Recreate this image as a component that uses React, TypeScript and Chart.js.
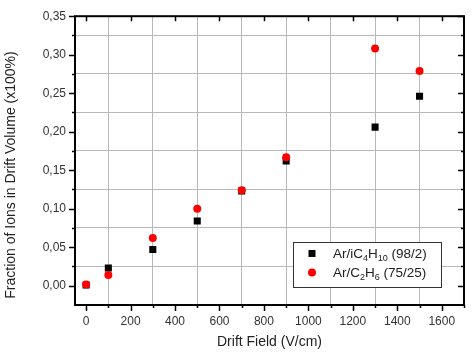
import React, { useEffect, useRef } from "react";
import { Chart, registerables } from "chart.js";

Chart.register(...registerables);

const driftField = [0, 100, 300, 500, 700, 900, 1300, 1500];
const isobutaneFraction = [0.001, 0.023, 0.047, 0.084, 0.123, 0.162, 0.206, 0.246];
const ethaneFraction = [0.0015, 0.014, 0.062, 0.1, 0.124, 0.167, 0.308, 0.279];

const xTickValues = Array.from({ length: 18 }, (_, i) => i * 100); // 0..1700
const yTickSteps = Array.from({ length: 16 }, (_, i) => i - 1); // -1..14 (x0.025)

const FONT = '"Liberation Sans", Arial, sans-serif';

const framePlugin = {
  id: "frame",
  afterDraw(chart: any) {
    const { ctx, chartArea } = chart;
    const { left, right, top, bottom } = chartArea;
    const xs = chart.scales.x;
    const ys = chart.scales.y;
    ctx.save();
    ctx.strokeStyle = "#000";
    ctx.lineWidth = 2;
    ctx.strokeRect(left, top, right - left, bottom - top);

    ctx.lineWidth = 1.5;
    ctx.beginPath();
    for (const v of xTickValues) {
      const px = Math.round(xs.getPixelForValue(v)) + 0.5;
      const major = v % 200 === 0 && v <= 1600;
      const len = major ? 6 : 3;
      ctx.moveTo(px, bottom);
      ctx.lineTo(px, bottom + len);
      if (major) {
        ctx.moveTo(px, top);
        ctx.lineTo(px, top + 5);
      }
    }
    for (const s of yTickSteps) {
      if (s < 0) continue;
      const v = s * 0.025;
      const py = Math.round(ys.getPixelForValue(v)) + 0.5;
      const major = s % 2 === 0;
      const len = major ? 6 : 3;
      ctx.moveTo(left, py);
      ctx.lineTo(left - len, py);
      ctx.moveTo(right, py);
      ctx.lineTo(right - len, py);
    }
    ctx.stroke();

    // axis titles
    ctx.fillStyle = "#222";
    ctx.font = `14px ${FONT}`;
    ctx.textAlign = "center";
    ctx.textBaseline = "middle";
    ctx.fillText("Drift Field (V/cm)", (left + right) / 2, 342);
    ctx.save();
    ctx.translate(11, 175);
    ctx.rotate(-Math.PI / 2);
    ctx.fillText("Fraction of Ions in Drift Volume (x100%)", 0, 0);
    ctx.restore();

    // legend
    const bx = 293, by = 242, bw = 148, bh = 45;
    ctx.fillStyle = "#fff";
    ctx.fillRect(bx, by, bw, bh);
    ctx.strokeStyle = "#333";
    ctx.lineWidth = 1;
    ctx.strokeRect(bx + 0.5, by + 0.5, bw, bh);

    ctx.fillStyle = "#000";
    ctx.fillRect(312 - 3.5, 253.5 - 3.5, 7, 7);
    ctx.fillStyle = "#ff0000";
    ctx.beginPath();
    ctx.arc(312, 272.5, 4, 0, Math.PI * 2);
    ctx.fill();

    const drawRich = (parts: [string, boolean][], x: number, baseline: number) => {
      ctx.textAlign = "left";
      ctx.textBaseline = "alphabetic";
      ctx.fillStyle = "#222";
      let cx = x;
      for (const [t, sub] of parts) {
        ctx.font = sub ? `9px ${FONT}` : `13.5px ${FONT}`;
        ctx.fillText(t, cx, baseline + (sub ? 3 : 0));
        cx += ctx.measureText(t).width;
      }
    };
    drawRich([["Ar/iC", false], ["4", true], ["H", false], ["10", true], [" (98/2)", false]], 333, 258);
    drawRich([["Ar/C", false], ["2", true], ["H", false], ["6", true], [" (75/25)", false]], 333, 277);
    ctx.restore();
  },
};

export default function App() {
  const ref = useRef<HTMLCanvasElement | null>(null);
  useEffect(() => {
    if (!ref.current) return;
    const chart = new Chart(ref.current, {
      type: "scatter",
      data: {
        datasets: [
          {
            label: "Ar/iC4H10 (98/2)",
            data: driftField.map((x, i) => ({ x, y: isobutaneFraction[i] })),
            pointStyle: "rect",
            pointRadius: 5,
            backgroundColor: "#000",
            borderColor: "#000",
            borderWidth: 0,
            order: 1,
          },
          {
            label: "Ar/C2H6 (75/25)",
            data: driftField.map((x, i) => ({ x, y: ethaneFraction[i] })),
            pointStyle: "circle",
            pointRadius: 4,
            backgroundColor: "#ff0000",
            borderColor: "#ff0000",
            borderWidth: 0,
            order: 0,
          },
        ],
      },
      options: {
        animation: false,
        responsive: false,
        maintainAspectRatio: false,
        layout: { padding: { top: 15, right: 10, left: 0, bottom: 0 } },
        plugins: { legend: { display: false }, tooltip: { enabled: false } },
        scales: {
          x: {
            type: "linear",
            min: -50,
            max: 1700,
            afterBuildTicks: (s: any) => {
              s.ticks = xTickValues.map((v) => ({ value: v }));
            },
            afterFit: (s: any) => {
              s.height = 49;
            },
            border: { display: false },
            grid: {
              drawTicks: false,
              lineWidth: 1,
              color: (c: any) =>
                c.tick && c.tick.value % 200 !== 0 && c.tick.value < 1700 ? "#b8b8b8" : "rgba(0,0,0,0)",
            },
            ticks: {
              autoSkip: false,
              maxRotation: 0,
              padding: 9,
              color: "#333",
              font: { family: FONT, size: 12 },
              callback: (v: any) => (v % 200 === 0 && v <= 1600 ? String(v) : ""),
            },
          },
          y: {
            type: "linear",
            min: -0.025,
            max: 0.35,
            afterBuildTicks: (s: any) => {
              s.ticks = yTickSteps.map((k) => ({ value: Math.round(k * 25) / 1000 }));
            },
            afterFit: (s: any) => {
              s.width = 75;
            },
            border: { display: false },
            grid: {
              drawTicks: false,
              lineWidth: 1,
              color: (c: any) => {
                if (!c.tick) return "rgba(0,0,0,0)";
                const k = Math.round(c.tick.value * 1000 / 25);
                return k > 0 && k % 2 !== 0 && k < 14 ? "#b8b8b8" : "rgba(0,0,0,0)";
              },
            },
            ticks: {
              autoSkip: false,
              padding: 9,
              color: "#333",
              font: { family: FONT, size: 12 },
              callback: (v: any) => {
                const k = Math.round(v * 1000 / 25);
                return k >= 0 && k % 2 === 0 ? (k * 0.025).toFixed(2).replace(".", ",") : "";
              },
            },
          },
        },
      },
      plugins: [framePlugin],
    });
    return () => chart.destroy();
  }, []);
  return (
    <div style={{ position: "fixed", left: 0, top: 0, width: 474, height: 354, background: "#fff" }}>
      <canvas ref={ref} width={474} height={354} style={{ width: 474, height: 354 }} />
    </div>
  );
}
